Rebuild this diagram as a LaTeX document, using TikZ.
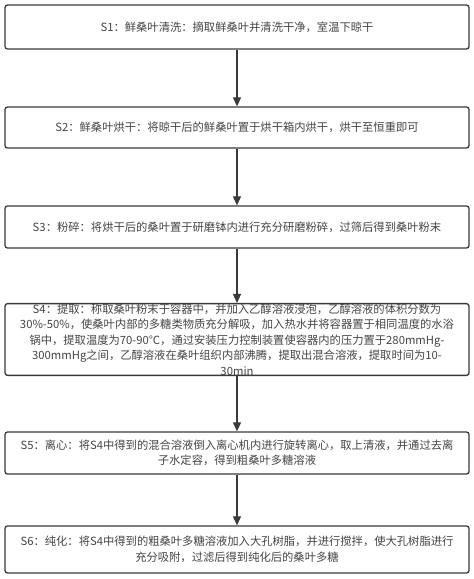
\documentclass[tikz,border=0pt]{standalone}
\usepackage{fontspec}
\newfontfamily\cjk{Noto Sans CJK SC}
\usetikzlibrary{arrows.meta}
\definecolor{boxline}{HTML}{3A3A3A}
\definecolor{txt}{HTML}{444444}
\begin{document}
\begin{tikzpicture}[x=1pt,y=-1pt,
  stepbox/.style={draw=boxline, line width=1.3pt, rounded corners=2.5pt, minimum width=464pt, inner sep=0pt, align=center, text=txt, font=\cjk\fontsize{11.3}{15.5}\selectfont},
  flow/.style={draw=boxline, line width=1.1pt, -{Triangle[length=9pt,width=8pt]}}]
\useasboundingbox (0,0) rectangle (474,579);
\node[stepbox, minimum height=44pt] (s1) at (237,27) {S1：鲜桑叶清洗：摘取鲜桑叶并清洗干净，室温下晾干};
\node[stepbox, minimum height=41pt] (s2) at (237,127.5) {S2：鲜桑叶烘干：将晾干后的鲜桑叶置于烘干箱内烘干，烘干至恒重即可};
\node[stepbox, minimum height=42pt] (s3) at (237,227) {S3：粉碎：将烘干后的桑叶置于研磨钵内进行充分研磨粉碎，过筛后得到桑叶粉末};
\node[stepbox, minimum height=71pt] (s4) at (237,339.5) {S4：提取：称取桑叶粉末于容器中，并加入乙醇溶液浸泡，乙醇溶液的体积分数为\\30\%-50\%，使桑叶内部的多糖类物质充分解吸，加入热水并将容器置于相同温度的水浴\\锅中，提取温度为70-90℃，通过安装压力控制装置使容器内的压力置于280mmHg-\\300mmHg之间，乙醇溶液在桑叶组织内部沸腾，提取出混合溶液，提取时间为10-\\30min};
\node[stepbox, minimum height=42pt] (s5) at (237,453) {S5：离心：将S4中得到的混合溶液倒入离心机内进行旋转离心，取上清液，并通过去离\\子水定容，得到粗桑叶多糖溶液};
\node[stepbox, minimum height=47pt] (s6) at (237,549.5) {S6：纯化：将S4中得到的粗桑叶多糖溶液加入大孔树脂，并进行搅拌，使大孔树脂进行\\充分吸附，过滤后得到纯化后的桑叶多糖};
\draw[flow] (s1) -- (s2);
\draw[flow] (s2) -- (s3);
\draw[flow] (s3) -- (s4);
\draw[flow] (s4) -- (s5);
\draw[flow] (s5) -- (s6);
\end{tikzpicture}
\end{document}
